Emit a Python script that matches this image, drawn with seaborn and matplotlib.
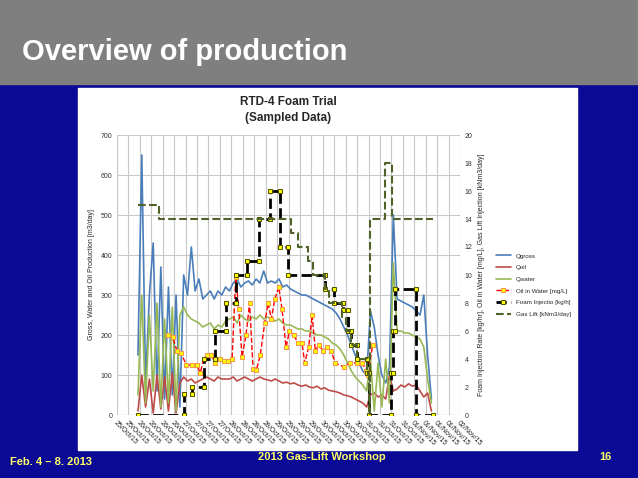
import matplotlib
matplotlib.use("Agg")
from matplotlib import pyplot as plt
import numpy as np
import pandas as pd
import seaborn as sns

# hours after 25/Oct/15 12:00, sampled every 2 h
hours = list(range(11, 167, 2))

q_gross = [150, 650, 80, 300, 430, 60, 370, 40, 320, 50, 300, 20,
           350, 300, 420, 310, 340, 290, 300, 310, 290, 310, 300, 320,
           310, 330, 340, 320, 330, 335, 325, 340, 330, 360, 330, 335,
           330, 340, 320, 325, 315, 310, 305, 300, 300, 295, 290, 285,
           280, 275, 270, 265, 255, 240, 220, 200, 175, 150, 130, 110,
           100, 260, 220, 150, 100, 80, 120,
           500, 290, 285, 280, 275, 270, 260, 250, 300, 150, 40]
q_water = [50, 300, 30, 250, 60, 280, 20, 240, 30, 270, 10, 250,
           270, 250, 240, 235, 230, 220, 225, 230, 215, 225, 220, 235,
           240, 245, 230, 250, 240, 235, 245, 240, 250, 240, 245, 240,
           235, 240, 230, 225, 225, 220, 215, 215, 210, 210, 205, 200,
           200, 195, 190, 180, 175, 165, 150, 130, 110, 95, 85, 75,
           60, 140, 10, 130, 20, 140, 30,
           380, 210, 210, 205, 205, 200, 195, 190, 170, 90, 30]
q_oil = [10, 100, 20, 90, 5, 100, 15, 95, 10, 105, 5, 80,
         95, 85, 90, 80, 85, 90, 95, 90, 85, 95, 90, 90,
         90, 95, 85, 90, 95, 90, 85, 90, 95, 90, 88, 85,
         90, 85, 80, 82, 78, 80, 75, 72, 75, 70, 68, 72,
         65, 68, 62, 60, 58, 55, 50, 48, 45, 40, 35, 30,
         20, 50, 55, 45, 50, 40, 100,
         60, 65, 75, 70, 78, 72, 75, 60, 45, 55, 10]

oiw_t = [26.6, 29.2, 31.5, 33.6, 36.4, 39.4, 42.0, 43.7, 45.5, 47.2, 49.5, 51.6,
         53.9, 56.0, 58.3, 60.4, 62.3, 63.9, 65.6, 67.7, 69.6, 71.4, 73.1, 75.2,
         77.5, 79.3, 81.0, 82.8, 84.9, 86.6, 88.7, 90.5, 92.7, 95.0, 97.1, 98.5,
         100.6, 102.4, 104.1, 105.9, 108.2, 110.3, 112.4, 114.6, 119.0, 122.1,
         126.0, 128.6, 130.9, 131.8, 134.1]
oiw_mgl = [200, 195, 160, 155, 125, 125, 125, 105, 140, 150, 150, 130,
           140, 135, 135, 140, 345, 265, 145, 200, 280, 115, 112, 150,
           230, 280, 240, 290, 320, 265, 170, 210, 200, 180, 180, 130,
           170, 250, 160, 175, 160, 170, 160, 130, 120, 130,
           130, 130, 110, 100, 175]

foam_t = [10.8, 34.9, 34.9, 39.4, 39.4, 45.5, 45.5, 51.3, 51.3, 57.2, 57.2, 62.6,
          62.6, 68.2, 68.2, 74.3, 74.3, 80.1, 80.1, 85.7, 85.7, 89.8, 89.8, 109,
          109, 114, 114, 118.5, 118.5, 121, 121, 123, 123, 126, 126, 131,
          131, 132, 132, 144, 144, 145, 145, 146, 146, 157, 157, 166]
foam_kgh = [0, 0, 1.5, 1.5, 2, 2, 4, 4, 6, 6, 8, 8,
            10, 10, 11, 11, 14, 14, 16, 16, 12, 12, 10, 10,
            9, 9, 8, 8, 7.5, 7.5, 6, 6, 5, 5, 4, 4,
            3, 3, 0, 0, 3, 3, 6, 6, 9, 9, 0, 0]

gl_t = [10.8, 21.9, 21.9, 91.3, 91.3, 95, 95, 100, 100, 103, 103, 109,
        109, 111, 111, 118, 118, 120, 120, 123, 123, 126, 126, 131,
        131, 132, 132, 133, 133, 140.5, 140.5, 144.5, 144.5, 166]
gl_knm3 = [15, 15, 14, 14, 13, 13, 12, 12, 11, 11, 10, 10,
           9, 9, 8, 8, 7, 7, 6, 6, 5, 5, 4, 4,
           3, 3, 0, 0, 14, 14, 18, 18, 14, 14]

tick_labels = ["25/Oct/15"] * 2 + ["26/Oct/15"] * 4 + ["27/Oct/15"] * 4 + \
              ["28/Oct/15"] * 4 + ["29/Oct/15"] * 4 + ["30/Oct/15"] * 4 + \
              ["31/Oct/15"] * 4 + ["01/Nov/15"] * 4 + ["02/Nov/15"] * 1

sns.set_style("white")
plt.rcParams['font.family'] = ['Liberation Sans', 'DejaVu Sans']

fig = plt.figure(figsize=(6.38, 4.78), dpi=100)
fig.patch.set_facecolor("#0a0a96")
# slide header and white chart panel
fig.add_artist(plt.Rectangle((0, 1 - 84 / 478), 1, 84 / 478, transform=fig.transFigure,
                             color="#7f7f7f", zorder=0))
fig.add_artist(plt.Rectangle((78 / 638, 1 - 450 / 478), 499 / 638, 362 / 478,
                             transform=fig.transFigure, color="white", zorder=0))
fig.text(22 / 638, 1 - 52 / 478, "Overview of production", color="white",
         fontsize=21, fontweight="bold", va="center")
fig.text(10 / 638, 1 - 462 / 478, "Feb. 4 – 8. 2013", color="#ffff66",
         fontsize=8, fontweight="bold", va="center")
fig.text(322 / 638, 1 - 457 / 478, "2013 Gas-Lift Workshop", color="#ffff66",
         fontsize=8, fontweight="bold", va="center", ha="center")
fig.text(612 / 638, 1 - 457 / 478, "16", color="#ffff66",
         fontsize=8, fontweight="bold", va="center", ha="right")

ax = fig.add_axes([117 / 638, 1 - 415 / 478, 343 / 638, 280 / 478])
ax.set_facecolor("none")
ax2 = ax.twinx()

prod = pd.DataFrame({"t": hours, "Qgross": q_gross, "Qoil": q_oil, "Qwater": q_water})
sns.lineplot(data=prod, x="t", y="Qgross", ax=ax, color="#4a7ebb", lw=1.2, label="Qgross")
sns.lineplot(data=prod, x="t", y="Qoil", ax=ax, color="#be4b48", lw=1.2, label="Qoil")
sns.lineplot(data=prod, x="t", y="Qwater", ax=ax, color="#98b954", lw=1.2, label="Qwater")

sns.lineplot(x=oiw_t, y=oiw_mgl, ax=ax, color="red", lw=1, ls="--", marker="s", ms=3.5,
             mfc="#ffff00", mec="#f79646", label="Oil in Water [mg/L]")
sns.lineplot(x=foam_t, y=foam_kgh, ax=ax2, color="black", lw=2, ls="--", marker="s", ms=3.5,
             mfc="#ffff00", mec="#555500", estimator=None, sort=False,
             label="Foam Injectio [kg/h]")
sns.lineplot(x=gl_t, y=gl_knm3, ax=ax2, color="#4f6228", lw=1.5, ls="--",
             estimator=None, sort=False, label="Gas Lift [kNm3/day]")

ax.set_xlim(0, 180)
ax.set_ylim(0, 700)
ax2.set_ylim(0, 20)
ax.set_yticks(range(0, 701, 100))
ax2.set_yticks(range(0, 21, 2))
ax.set_xticks(range(0, 181, 6))
ax.set_xticklabels(tick_labels, rotation=-45, ha="left", rotation_mode="anchor", fontsize=5)
ax.tick_params(axis="y", labelsize=5, length=0, colors="#333333")
ax2.tick_params(axis="y", labelsize=5, length=0, colors="#333333")
ax.tick_params(axis="x", length=0, pad=3)
ax.grid(True, color="#c8c8c8", lw=0.8)
for s in ax.spines.values():
    s.set_visible(False)
for s in ax2.spines.values():
    s.set_visible(False)
ax.axhline(0, color="#999999", lw=0.8)
ax.set_xlabel("")
ax.set_ylabel("Gross, Water and Oil Production [m3/day]", fontsize=5)
ax2.set_ylabel("Foam Injection Rate [kg/hr], Oil in Water [mg/L], Gas Lift Injection [kNm3/day]",
               fontsize=5)
ax.set_title("RTD-4 Foam Trial\n(Sampled Data)", fontsize=8.5, fontweight="bold", pad=10,
             linespacing=1.5)

h1, l1 = ax.get_legend_handles_labels()
h2, l2 = ax2.get_legend_handles_labels()
ax.get_legend().remove()
ax2.get_legend().remove()
fig.legend(h1 + h2, l1 + l2, loc="center left", bbox_to_anchor=(490 / 638, 1 - 285 / 478),
           frameon=False, fontsize=4.5, handlelength=2.5, labelspacing=1.0)

fig.savefig("out.png", dpi=100)
